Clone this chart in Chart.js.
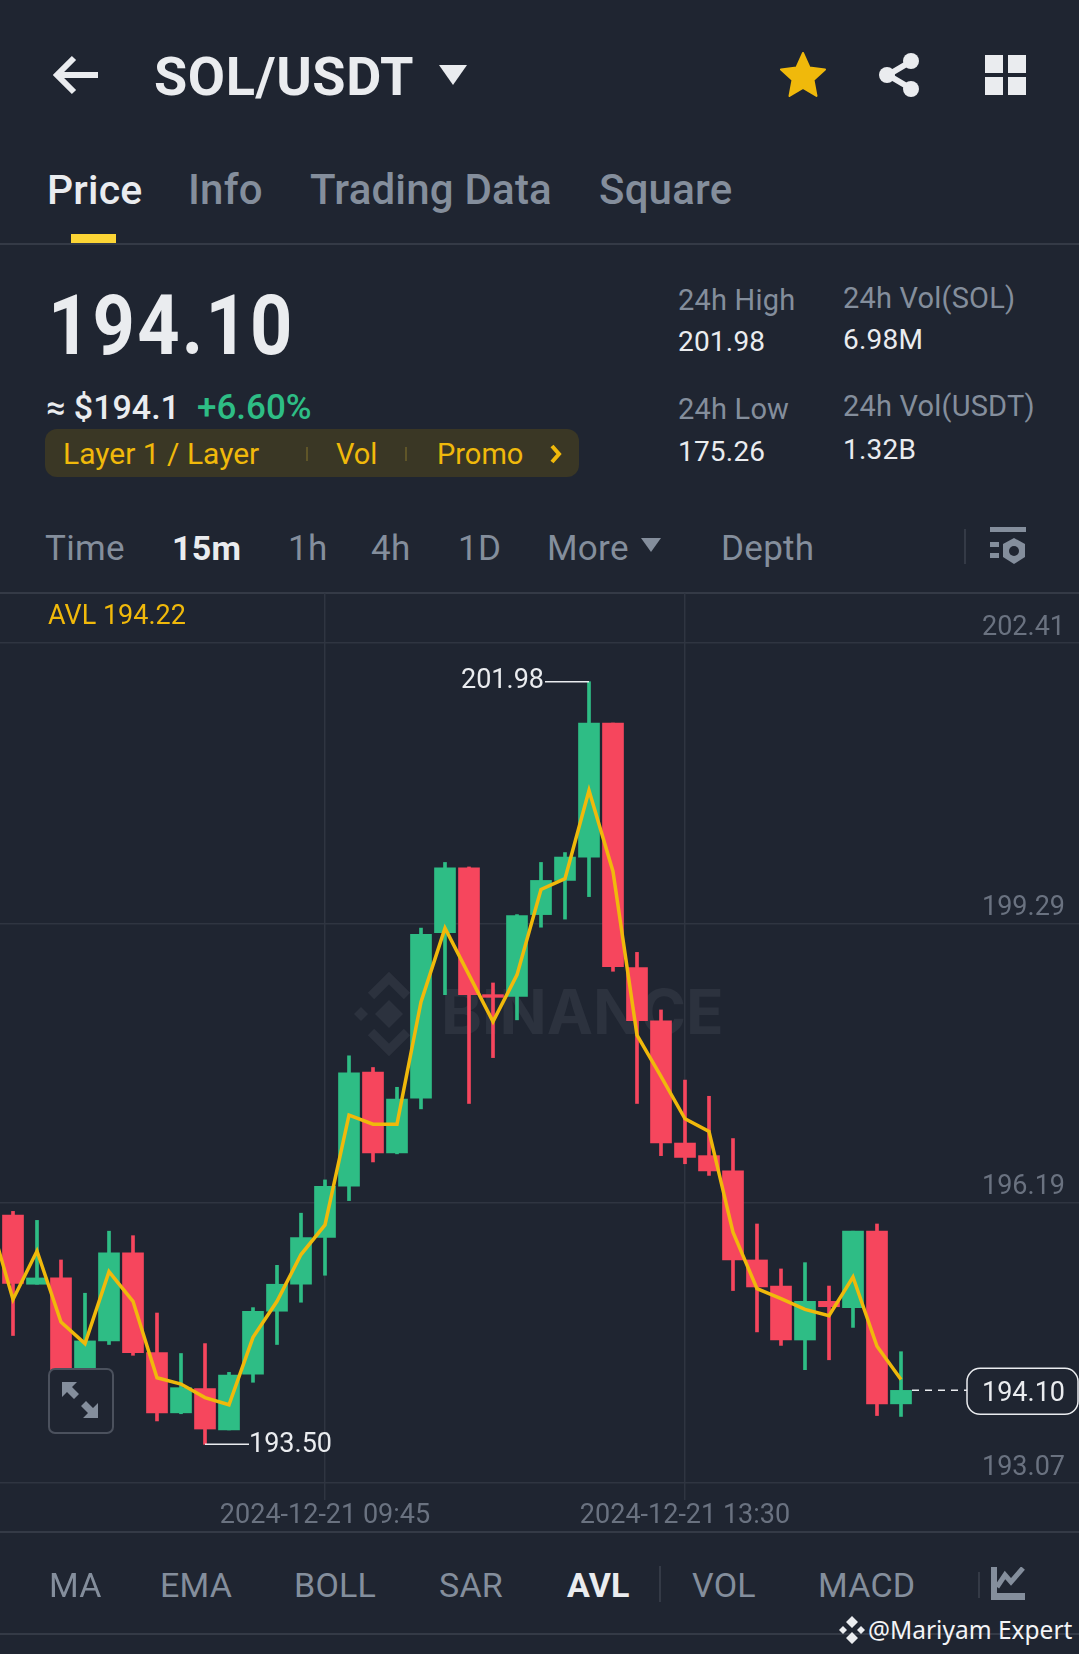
<!DOCTYPE html>
<html lang="en">
<head>
<meta charset="UTF-8">
<title>SOL/USDT</title>
<script src="https://cdn.jsdelivr.net/npm/chart.js@4"></script>
<style>
  html, body { margin: 0; padding: 0; background: #1f2531; }
  #page { position: relative; width: 1079px; height: 1654px; overflow: hidden; background: #1f2531; font-family: Roboto, sans-serif; color: #848e9c; }
  #page canvas { position: absolute; left: 0; top: 593px; }
  .t { position: absolute; white-space: nowrap; transform: translateY(-50%); line-height: 1; }
  .w { color: #eaecef; }
  .y { color: #f0b90b; }
  .b { font-weight: 500; }
  .line { position: absolute; left: 0; width: 1079px; height: 2px; background: #343a46; }
  .vr { position: absolute; width: 2px; background: #343a46; }
  svg { position: absolute; }
  .tab { font-size: 42px; font-weight: 500; letter-spacing: 0.2px; }
  .stat { font-size: 29px; letter-spacing: 0.2px; }
  .num { font-size: 28px; letter-spacing: 0.2px; }
  .tf { font-size: 35px; letter-spacing: 0.3px; }
  .ind { font-size: 34px; letter-spacing: 0.2px; }
</style>
</head>
<body>
<div id="page">
  <!-- header -->
  <svg style="left:52px;top:54px" width="48" height="42" viewBox="0 0 48 42"><path d="M22 4 L5 21 L22 38 M5 21 H46" fill="none" stroke="#eaecef" stroke-width="6"/></svg>
  <div class="t w" style="left:154px;top:77px;font-size:54px;font-weight:700;letter-spacing:0.6px">SOL/USDT</div>
  <svg style="left:439px;top:65px" width="28" height="20"><path d="M0 0 H28 L14 20 Z" fill="#eaecef"/></svg>
  <svg style="left:780px;top:52px" width="46" height="46" viewBox="0 0 46 46"><path d="M23 1 L29.5 15.5 L45 17.5 L33.5 28 L36.5 44 L23 36 L9.5 44 L12.5 28 L1 17.5 L16.5 15.5 Z" fill="#f0b90b" stroke="#f0b90b" stroke-width="2" stroke-linejoin="round"/></svg>
  <svg style="left:876px;top:52px" width="46" height="46" viewBox="0 0 46 46"><path d="M34 10 L12 23 L34 36" fill="none" stroke="#eaecef" stroke-width="6"/><circle cx="35" cy="9" r="8" fill="#eaecef"/><circle cx="11" cy="23" r="8" fill="#eaecef"/><circle cx="35" cy="37" r="8" fill="#eaecef"/></svg>
  <svg style="left:985px;top:55px" width="41" height="40"><rect width="18" height="18" fill="#eaecef"/><rect x="23" width="18" height="18" fill="#eaecef"/><rect y="22" width="18" height="18" fill="#eaecef"/><rect x="23" y="22" width="18" height="18" fill="#eaecef"/></svg>

  <!-- tabs -->
  <div class="t w tab" style="left:47px;top:190px;font-size:41px">Price</div>
  <div class="t tab" style="left:188px;top:190px">Info</div>
  <div class="t tab" style="left:310px;top:190px">Trading Data</div>
  <div class="t tab" style="left:599px;top:190px">Square</div>
  <div style="position:absolute;left:71px;top:234px;width:45px;height:9px;background:#fcd535"></div>
  <div class="line" style="top:243px"></div>

  <!-- price block -->
  <div class="t w" style="left:48px;top:326px;font-size:84px;font-weight:700;letter-spacing:2.5px;transform:translateY(-50%) scaleX(0.88);transform-origin:left center">194.10</div>
  <div class="t w b" style="left:46px;top:407px;font-size:34px">≈ $194.1</div>
  <div class="t b" style="left:197px;top:407px;font-size:35px;color:#2ebd85">+6.60%</div>
  <div style="position:absolute;left:45px;top:429px;width:534px;height:48px;border-radius:12px;background:#3a3725"></div>
  <div class="t y" style="left:63px;top:454px;font-size:30px">Layer 1 / Layer</div>
  <div class="vr" style="left:306px;top:447px;height:14px;background:#5f5528"></div>
  <div class="t y" style="left:336px;top:454px;font-size:29px">Vol</div>
  <div class="vr" style="left:405px;top:447px;height:14px;background:#5f5528"></div>
  <div class="t y" style="left:437px;top:454px;font-size:29px">Promo</div>
  <svg style="left:549px;top:444px" width="13" height="20"><path d="M3 2 L10 10 L3 18" fill="none" stroke="#f0b90b" stroke-width="4"/></svg>

  <div class="t stat" style="left:678px;top:300px">24h High</div>
  <div class="t w num" style="left:678px;top:342px">201.98</div>
  <div class="t stat" style="left:843px;top:298px">24h Vol(SOL)</div>
  <div class="t w num" style="left:843px;top:340px">6.98M</div>
  <div class="t stat" style="left:678px;top:409px">24h Low</div>
  <div class="t w num" style="left:678px;top:452px">175.26</div>
  <div class="t stat" style="left:843px;top:406px">24h Vol(USDT)</div>
  <div class="t w num" style="left:843px;top:450px">1.32B</div>

  <!-- timeframe row -->
  <div class="t tf" style="left:45px;top:548px">Time</div>
  <div class="t w tf" style="left:172px;top:548px;font-size:34px;font-weight:700">15m</div>
  <div class="t tf" style="left:288px;top:548px">1h</div>
  <div class="t tf" style="left:371px;top:548px">4h</div>
  <div class="t tf" style="left:458px;top:548px">1D</div>
  <div class="t tf" style="left:547px;top:548px">More</div>
  <svg style="left:641px;top:538px" width="20" height="14"><path d="M0 0 H20 L10 14 Z" fill="#848e9c"/></svg>
  <div class="t tf" style="left:721px;top:548px">Depth</div>
  <div class="vr" style="left:964px;top:529px;height:35px"></div>
  <svg style="left:990px;top:527px" width="36" height="38" viewBox="0 0 36 38"><rect width="36" height="5" fill="#848e9c"/><rect y="15" width="9" height="5" fill="#848e9c"/><rect y="26" width="9" height="5" fill="#848e9c"/><path d="M24 11 L35 17 V30 L24 37 L13 30 V17 Z" fill="#848e9c"/><circle cx="24" cy="24" r="5" fill="#1f2531"/></svg>
  <div class="line" style="top:592px"></div>

  <canvas id="klineChart" width="1079" height="938"></canvas>

  <div class="t y" style="left:48px;top:615px;font-size:27px">AVL 194.22</div>

  <!-- expand button over the chart -->
  <div style="position:absolute;left:48px;top:1368px;width:62px;height:62px;border:2px solid #4b515d;border-radius:7px;background:#1f2531"></div>
  <svg style="left:60px;top:1380px" width="40" height="40" viewBox="0 0 40 40"><path d="M2 2 H17 L12 7 L19 14 L14 19 L7 12 L2 17 Z" fill="#848e9c"/><path d="M38 38 H23 L28 33 L21 26 L26 21 L33 28 L38 23 Z" fill="#848e9c"/></svg>

  <!-- indicator row -->
  <div class="line" style="top:1531px"></div>
  <div class="t ind" style="left:49px;top:1585px">MA</div>
  <div class="t ind" style="left:160px;top:1585px">EMA</div>
  <div class="t ind" style="left:294px;top:1585px">BOLL</div>
  <div class="t ind" style="left:439px;top:1585px">SAR</div>
  <div class="t w ind" style="left:567px;top:1585px;font-weight:700">AVL</div>
  <div class="vr" style="left:659px;top:1566px;height:36px"></div>
  <div class="t ind" style="left:692px;top:1585px">VOL</div>
  <div class="t ind" style="left:818px;top:1585px">MACD</div>
  <div class="vr" style="left:978px;top:1572px;height:26px"></div>
  <svg style="left:991px;top:1567px" width="34" height="33" viewBox="0 0 34 33"><path d="M0 0 H6 V26 H34 V33 H0 Z" fill="#848e9c"/><path d="M6 20 L14 8 L20 15 L32 1" fill="none" stroke="#848e9c" stroke-width="5"/></svg>
  <div class="line" style="top:1633px"></div>

  <!-- uploader mark -->
  <svg style="left:838px;top:1615px" width="28" height="30" viewBox="0 0 28 30"><path d="M14 1 L20 7 L14 13 L8 7 Z M14 17 L20 23 L14 29 L8 23 Z M5 11 L9 15 L5 19 L1 15 Z M23 11 L27 15 L23 19 L19 15 Z" fill="#eaecef"/></svg>
  <div class="t" style="left:868px;top:1630px;font-size:24.5px;font-family:'Noto Sans',sans-serif;color:#f3f4f6">@Mariyam Expert</div>
</div>

<script>
  // 15m candles, oldest first. The first AVL value belongs to the candle just off the left edge.
  const times = ['06:30','06:45','07:00','07:15','07:30','07:45','08:00','08:15','08:30','08:45','09:00','09:15','09:30','09:45','10:00','10:15','10:30','10:45','11:00','11:15','11:30','11:45','12:00','12:15','12:30','12:45','13:00','13:15','13:30','13:45','14:00','14:15','14:30','14:45','15:00','15:15','15:30','15:45'];
  const opens  = [196.05,195.28,195.35,194.31,194.65,195.63,194.52,193.85,194.12,193.66,194.28,194.98,195.28,195.80,196.37,197.64,196.74,197.35,199.19,199.91,198.50,198.48,199.39,199.77,200.03,201.52,198.80,198.21,196.85,196.71,196.54,195.55,195.26,194.66,195.09,195.02,195.87,193.95];
  const highs  = [196.09,195.99,195.55,195.18,195.87,195.82,194.96,194.51,194.62,194.30,195.02,195.49,196.07,196.44,197.82,197.69,197.47,199.24,199.97,199.92,198.63,199.39,199.97,200.08,201.98,201.52,198.97,198.33,197.55,197.37,196.90,195.95,195.45,195.52,195.26,195.87,195.95,194.53];
  const lows   = [194.71,195.28,194.31,194.31,194.61,194.49,193.76,193.84,193.50,193.66,194.19,194.61,195.08,195.38,196.21,196.64,196.73,197.23,198.50,197.29,197.80,198.22,199.25,199.34,199.59,198.76,197.29,196.71,196.62,196.49,195.21,194.75,194.60,194.33,194.44,194.80,193.82,193.81];
  const closes = [195.29,195.35,194.31,194.65,195.63,194.52,193.85,194.13,193.67,194.27,194.98,195.28,195.80,196.37,197.63,196.74,197.34,199.17,199.91,198.50,198.47,199.38,199.77,200.03,201.52,198.81,198.21,196.85,196.69,196.54,195.55,195.25,194.66,195.09,195.03,195.87,193.95,194.10];
  const avl    = [196.04,195.11,195.65,194.86,194.62,195.42,195.09,194.24,194.17,194.02,193.94,194.69,195.09,195.61,195.94,197.16,197.06,197.06,198.42,199.24,198.72,198.20,198.72,199.67,199.79,200.77,199.87,198.05,197.59,197.12,196.98,195.86,195.23,195.12,195.00,194.93,195.36,194.59,194.22];

  const priceTicks = [202.41, 199.29, 196.19, 193.07];
  const timeTicks = [13, 28];
  const tickDate = '2024-12-21 ';
  const highPrice = 201.98, highIndex = 24;
  const lowPrice = 193.50, lowIndex = 8;
  const lastPrice = 194.10, lastIndex = 37;

  const green = '#2ebd85', red = '#f6465d', gridColor = '#2f3541', tickColor = '#6a7280';
  const candleColors = opens.map((o, i) => closes[i] >= o ? green : red);

  // text and marks drawn on top of the candles, placed through the chart scales
  const annotations = {
    id: 'annotations',
    beforeDatasetsDraw(chart) {
      const ctx = chart.ctx;
      ctx.save();
      ctx.fillStyle = '#2c323e';
      ctx.font = 'bold 62px Inter, Roboto, sans-serif';
      ctx.textBaseline = 'middle';
      ctx.textAlign = 'left';
      ctx.fillText('BINANCE', 441, 422);
      // diamond logo of the watermark
      const diamond = (x, y, r) => { ctx.beginPath(); ctx.moveTo(x, y - r); ctx.lineTo(x + r, y); ctx.lineTo(x, y + r); ctx.lineTo(x - r, y); ctx.fill(); };
      diamond(389, 421, 14);
      diamond(361, 421, 7);
      diamond(417, 421, 7);
      ctx.strokeStyle = '#2c323e';
      ctx.lineWidth = 9;
      ctx.beginPath();
      ctx.moveTo(371, 403); ctx.lineTo(389, 385); ctx.lineTo(407, 403);
      ctx.moveTo(371, 439); ctx.lineTo(389, 457); ctx.lineTo(407, 439);
      ctx.stroke();
      ctx.restore();
    },
    afterDatasetsDraw(chart) {
      const ctx = chart.ctx, x = chart.scales.x, y = chart.scales.y;
      ctx.save();
      ctx.font = '27px Roboto, sans-serif';
      ctx.textBaseline = 'middle';
      ctx.fillStyle = ctx.strokeStyle = '#eaecef';
      ctx.lineWidth = 1.5;

      const hx = x.getPixelForValue(highIndex), hy = y.getPixelForValue(highPrice);
      ctx.beginPath(); ctx.moveTo(hx, hy); ctx.lineTo(hx - 44, hy); ctx.stroke();
      ctx.textAlign = 'right';
      ctx.fillText(highPrice.toFixed(2), hx - 45, hy);

      const lx = x.getPixelForValue(lowIndex), ly = y.getPixelForValue(lowPrice);
      ctx.beginPath(); ctx.moveTo(lx, ly); ctx.lineTo(lx + 44, ly); ctx.stroke();
      ctx.textAlign = 'left';
      ctx.fillText(lowPrice.toFixed(2), lx + 44, ly + 1);

      // last price: dashed line and boxed label
      const px = x.getPixelForValue(lastIndex) + 11, py = y.getPixelForValue(lastPrice);
      ctx.setLineDash([7, 6]);
      ctx.beginPath(); ctx.moveTo(px, py); ctx.lineTo(967, py); ctx.stroke();
      ctx.setLineDash([]);
      ctx.fillStyle = '#1f2531';
      ctx.beginPath(); ctx.roundRect(967, py - 22, 111, 46, 13); ctx.fill(); ctx.stroke();
      ctx.fillStyle = '#eaecef';
      ctx.textAlign = 'right';
      ctx.fillText(lastPrice.toFixed(2), 1065, py + 4);
      ctx.restore();
    }
  };

  // the axes must not reserve room for their labels: the plot fills the canvas width
  function noPadding(scale) {
    scale.paddingLeft = scale.paddingRight = scale.paddingTop = scale.paddingBottom = 0;
  }

  new Chart(document.getElementById('klineChart'), {
    data: {
      datasets: [
        {
          type: 'line',
          label: 'AVL',
          data: avl.map((v, i) => ({ x: i - 1, y: v })),
          borderColor: '#f0b90b',
          borderWidth: 3.5,
          pointRadius: 0,
          tension: 0,
          order: 0
        },
        {
          type: 'bar',
          label: 'Body',
          data: opens.map((o, i) => ({ x: i, y: [o, closes[i]] })),
          backgroundColor: candleColors,
          barThickness: 21,
          grouped: false,
          order: 1
        },
        {
          type: 'bar',
          label: 'Wick',
          data: lows.map((l, i) => ({ x: i, y: [l, highs[i]] })),
          backgroundColor: candleColors,
          barThickness: 3,
          grouped: false,
          order: 2
        }
      ]
    },
    options: {
      responsive: false,
      animation: false,
      layout: { padding: 0 },
      plugins: { legend: { display: false }, tooltip: { enabled: false } },
      scales: {
        x: {
          type: 'linear',
          offset: false,
          min: -0.5417,
          max: 44.4167,
          border: { display: false },
          grid: { offset: false, color: gridColor, lineWidth: 1.5, tickLength: 17, tickColor: gridColor },
          afterBuildTicks(scale) { scale.ticks = timeTicks.map(v => ({ value: v })); },
          afterFit(scale) { scale.height = 48; noPadding(scale); },
          ticks: {
            autoSkip: false,
            maxRotation: 0,
            padding: 0,
            color: tickColor,
            font: { family: 'Roboto', size: 27 },
            callback: v => tickDate + times[v]
          }
        },
        y: {
          position: 'right',
          min: 193.07,
          max: 202.966,
          border: { display: false },
          grid: { color: gridColor, lineWidth: 1.5, drawTicks: false },
          afterBuildTicks(scale) { scale.ticks = priceTicks.map(v => ({ value: v })); },
          afterFit(scale) { scale.width = 0; noPadding(scale); },
          ticks: {
            mirror: true,
            padding: -14,
            labelOffset: -15,
            color: tickColor,
            font: { family: 'Roboto', size: 27 },
            callback: v => v.toFixed(2)
          }
        }
      }
    },
    plugins: [annotations]
  });
</script>
</body>
</html>
